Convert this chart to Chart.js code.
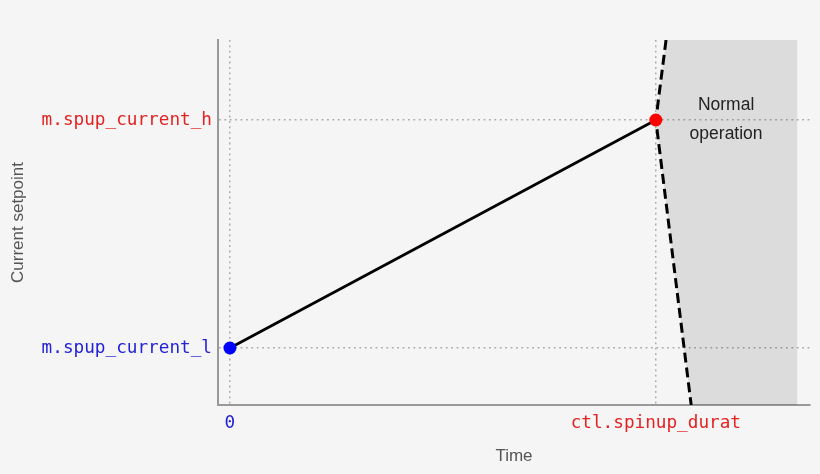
<!DOCTYPE html>
<html lang="en">
<head>
    <meta charset="UTF-8">
    <title>Spin-up current setpoint</title>
    <script src="https://cdn.jsdelivr.net/npm/chart.js"></script>
    <style>
        html, body { margin: 0; padding: 0; background: #f5f5f5; }
        .wrap { width: 820px; height: 474px; }
    </style>
</head>
<body>
<div class="wrap">
<canvas id="spinupChart" width="820" height="474"></canvas>
</div>

<script>
    // tick labels
    const xTickValues = [0, 1];
    const xTickLabels = ['0', 'ctl.spinup_durat'];
    const xTickColors = ['#2222d6', '#e42222'];
    const yTickValues = [0, 1];
    const yTickLabels = ['m.spup_current_l', 'm.spup_current_h'];
    const yTickColors = ['#2222d6', '#e42222'];

    // ramp from low to high current
    const rampTime = [0, 1];
    const rampCurrent = [0, 1];

    // dashed boundary of normal operation (bends at the end of the ramp)
    const boundaryTime = [1.024, 1.0, 1.083];
    const boundaryCurrent = [1.351, 1.0, -0.25];

    // shaded normal operation region
    const regionTime = [1.024, 1.332, 1.332, 1.083, 1.0];
    const regionCurrent = [1.351, 1.351, -0.25, -0.25, 1.0];

    const regionLabel = ['Normal', 'operation'];

    const toPoints = (xs, ys) => xs.map((x, i) => ({ x: x, y: ys[i] }));

    const labelPlugin = {
        id: 'regionLabel',
        afterDatasetsDraw(chart) {
            const ctx = chart.ctx;
            const cx = chart.scales.x.getPixelForValue(1.165);
            const cy = chart.scales.y.getPixelForValue(1.0);
            ctx.save();
            ctx.font = '17.5px "Liberation Sans", Arial, sans-serif';
            ctx.fillStyle = '#222';
            ctx.textAlign = 'center';
            ctx.textBaseline = 'middle';
            ctx.fillText(regionLabel[0], cx, cy - 15);
            ctx.fillText(regionLabel[1], cx, cy + 14);
            ctx.restore();
        }
    };

    const gridStyle = {
        color: '#aaaaaa',
        lineWidth: 1.5,
        drawTicks: false
    };
    // in v4 border.dash styles the grid lines
    const borderStyle = { color: '#999', width: 2, dash: [1.8, 3.6] };

    const chartConfig = {
        type: 'scatter',
        data: {
            datasets: [
                {
                    data: toPoints(rampTime, rampCurrent),
                    showLine: true,
                    borderColor: '#000',
                    borderWidth: 2.7,
                    pointRadius: 6.5,
                    pointHoverRadius: 6.5,
                    pointBorderWidth: 0,
                    pointBackgroundColor: ['#0000ff', '#ff0000'],
                    order: 0
                },
                {
                    data: toPoints(boundaryTime, boundaryCurrent),
                    showLine: true,
                    borderColor: '#000',
                    borderWidth: 3,
                    borderDash: [10, 5],
                    pointRadius: 0,
                    order: 1
                },
                {
                    data: toPoints(regionTime, regionCurrent),
                    showLine: true,
                    borderWidth: 0,
                    borderColor: 'rgba(0,0,0,0)',
                    backgroundColor: 'rgba(0,0,0,0.1)',
                    fill: 'shape',
                    pointRadius: 0,
                    order: 2
                }
            ]
        },
        options: {
            responsive: false,
            animation: false,
            layout: { padding: { top: 40, right: 10, left: 0, bottom: 0 } },
            plugins: {
                legend: { display: false },
                tooltip: { enabled: false }
            },
            scales: {
                x: {
                    type: 'linear',
                    min: -0.028,
                    max: 1.362,
                    afterBuildTicks: s => { s.ticks = xTickValues.map(v => ({ value: v })); },
                    afterFit: s => { s.height = 69; },
                    grid: gridStyle,
                    border: borderStyle,
                    ticks: {
                        padding: 8,
                        autoSkip: false,
                        maxRotation: 0,
                        font: { family: '"DejaVu Sans Mono", monospace', size: 17.7 },
                        color: c => xTickColors[c.index],
                        callback: (v, i) => xTickLabels[i]
                    },
                    title: {
                        display: true,
                        text: 'Time',
                        color: '#555',
                        font: { family: '"Liberation Sans", Arial, sans-serif', size: 17 },
                        padding: { top: 4, bottom: 7 }
                    }
                },
                y: {
                    type: 'linear',
                    min: -0.25,
                    max: 1.351,
                    afterBuildTicks: s => { s.ticks = yTickValues.map(v => ({ value: v })); },
                    afterFit: s => { s.width = 218; },
                    grid: gridStyle,
                    border: borderStyle,
                    ticks: {
                        padding: 6,
                        autoSkip: false,
                        font: { family: '"DejaVu Sans Mono", monospace', size: 17.7 },
                        color: c => yTickColors[c.index],
                        callback: (v, i) => yTickLabels[i]
                    },
                    title: {
                        display: true,
                        text: 'Current setpoint',
                        color: '#555',
                        font: { family: '"Liberation Sans", Arial, sans-serif', size: 17 },
                        padding: { top: 8, bottom: 4 }
                    }
                }
            }
        },
        plugins: [labelPlugin]
    };

    const spinupCanvas = document.getElementById('spinupChart');
    const spinupChart = new Chart(spinupCanvas.getContext('2d'), chartConfig);
</script>

</body>
</html>
